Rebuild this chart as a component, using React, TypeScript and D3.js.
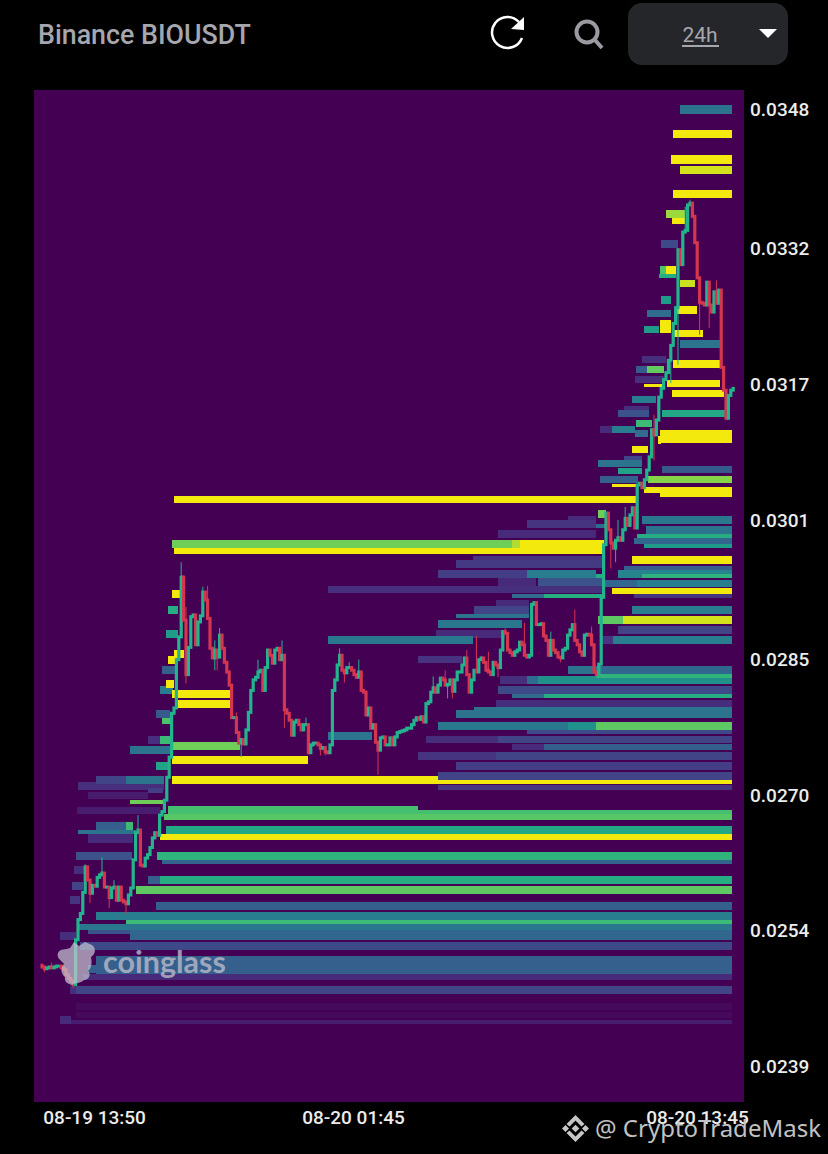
import { axisBottom, axisRight, interpolateViridis, scaleLinear, select } from 'd3';
import React, { useEffect, useRef } from 'react';

const WIDTH = 828;
const HEIGHT = 1154;

// all prices below are in units of 0.00001 USDT, candles are 5 minutes apart
const firstOpen = 2505;
const closes = [
  2503, 2501, 2502, 2503, 2502, 2503, 2504, 2504, 2502, 2500, 2494, 2490, 2487, 2483, 2534, 2557,
  2564, 2588, 2617, 2602, 2587, 2596, 2595, 2605, 2608, 2610, 2594, 2594, 2582, 2593, 2594, 2579,
  2594, 2579, 2577, 2575, 2585, 2593, 2625, 2656, 2659, 2619, 2618, 2627, 2631, 2639, 2650, 2656,
  2653, 2676, 2680, 2693, 2719, 2742, 2792, 2798, 2853, 2879, 2947, 2898, 2836, 2867, 2902, 2904,
  2870, 2896, 2903, 2930, 2921, 2900, 2866, 2855, 2864, 2856, 2881, 2866, 2850, 2839, 2824, 2787,
  2787, 2770, 2758, 2762, 2757, 2773, 2793, 2818, 2830, 2833, 2839, 2841, 2818, 2844, 2864, 2858,
  2849, 2864, 2866, 2853, 2858, 2796, 2792, 2784, 2767, 2782, 2784, 2779, 2773, 2779, 2779, 2747,
  2756, 2758, 2758, 2756, 2752, 2753, 2748, 2747, 2756, 2818, 2830, 2847, 2858, 2841, 2838, 2844,
  2844, 2841, 2836, 2833, 2839, 2818, 2816, 2790, 2798, 2775, 2779, 2759, 2750, 2764, 2765, 2756,
  2756, 2764, 2756, 2765, 2770, 2771, 2772, 2773, 2775, 2775, 2779, 2784, 2787, 2785, 2788, 2782,
  2803, 2805, 2816, 2821, 2816, 2824, 2832, 2830, 2824, 2825, 2830, 2817, 2830, 2839, 2839, 2847,
  2855, 2836, 2816, 2830, 2841, 2839, 2853, 2855, 2850, 2841, 2839, 2836, 2850, 2847, 2844, 2864,
  2885, 2883, 2864, 2861, 2858, 2862, 2864, 2873, 2870, 2858, 2856, 2858, 2916, 2918, 2893, 2893,
  2894, 2880, 2875, 2858, 2875, 2864, 2861, 2856, 2855, 2864, 2866, 2881, 2887, 2893, 2875, 2870,
  2862, 2858, 2881, 2882, 2881, 2870, 2839, 2836, 2848, 2924, 2984, 3020, 3001, 2986, 2980, 2989,
  2992, 2989, 3001, 3014, 3006, 3018, 3026, 3003, 3052, 3054, 3049, 3058, 3069, 3084, 3115, 3109,
  3126, 3152, 3162, 3172, 3180, 3194, 3211, 3236, 3254, 3320, 3303, 3340, 3342, 3371, 3373, 3358,
  3328, 3288, 3260, 3259, 3257, 3283, 3257, 3249, 3272, 3259, 3274, 3186, 3160, 3128, 3154, 3160,
  3162,
];
const wickCandles = [
  18, 20, 25, 28, 30, 35, 40, 58, 59, 60, 60, 67, 73, 74, 81, 83, 90, 100, 101, 110, 124, 132, 140,
  163, 168, 177, 181, 222, 237, 239, 240, 243, 255, 255, 262, 265, 268, 270, 274, 278, 281, 285,
  1, 4, 13, 69, 72, 72, 116, 118, 126, 128, 169, 171, 186, 190, 193, 201, 212, 216, 229,
];
const wickTips = [
  2620, 2576, 2628, 2570, 2602, 2564, 2676, 2964, 2949, 2913, 2826, 2936, 2841, 2889, 2793, 2742,
  2853, 2875, 2775, 2787, 2866, 2853, 2722, 2834, 2841, 2864, 2880, 2910, 2957, 2964, 3012, 3027,
  3132, 3080, 3168, 3189, 3369, 3377, 3223, 3231, 3285, 3126,
  2497, 2508, 2479, 2937, 2875, 2841, 2744, 2744, 2827, 2850, 2809, 2809, 2862, 2833, 2889, 2895, 2885, 2850, 2891,
];

const END = 287.5;
// liquidation levels: [first candle, last candle, high, low, heat 0..1]
const topLevels = [
  [266, END, 3485, 3475, 0.38], [263, END, 3456, 3447, 1], [262, END, 3428, 3418, 1],
  [266, END, 3415, 3406, 0.93], [263, END, 3388, 3379, 1], [260, 268, 3365, 3356, 0.85],
  [262.5, 268, 3356, 3349, 1], [258, 265, 3331, 3322, 0.22], [257.5, 260, 3301, 3292, 0.72],
  [260, 264, 3301, 3292, 1], [257, 264, 3292, 3288, 0.62], [266, 272, 3286, 3278, 0.92],
  [258, 262, 3267, 3258, 0.55], [264, 273, 3256, 3247, 1], [252, 262, 3251, 3243, 0.35],
  [257.5, 262, 3240, 3225, 1], [251, 257, 3233, 3225, 0.55], [263, 275.5, 3229, 3221, 1],
  [266, 282.5, 3217, 3208, 0.38], [250, 260, 3199, 3191, 0.14], [263, 282.5, 3194, 3185, 1],
  [247.5, 252, 3188, 3180, 0.28], [252, 259, 3188, 3180, 0.76], [247, 259, 3176, 3168, 0.13],
  [260.5, 282.5, 3172, 3164, 1], [251, 259, 3167, 3164, 1], [262.5, 284, 3160, 3152, 1],
  [246, 256, 3153, 3145, 0.42], [242.5, 253, 3142, 3134, 0.13], [240, 253, 3137, 3129, 0.25],
  [258.5, 285.5, 3137, 3129, 0.6], [247.5, 254, 3126, 3118, 0.68], [232.5, 237.5, 3119, 3111, 0.12],
  [237.5, 247, 3119, 3111, 0.42], [247, 252.5, 3115, 3107, 0.35], [257.5, END, 3115, 3100, 1],
  [256.5, 258, 3108, 3099, 1], [246, 252.5, 3096, 3089, 1], [258.5, END, 3074, 3066, 0.28],
  [242.5, 250, 3085, 3077, 0.2], [231.5, 250, 3081, 3073, 0.38], [240, 250, 3071, 3065, 0.58],
  [232.5, 248.5, 3062, 3054, 0.3], [252.5, END, 3062, 3054, 0.82], [237.5, 248, 3053, 3050, 1],
  [251, END, 3050, 3043, 1], [257.5, END, 3043, 3038, 1], [55, 248.5, 3040, 3032, 1],
];
const upperLevels = [
  [219, 231, 3017, 3012, 0.12], [202, 231, 3012, 3003, 0.15], [231.5, 235, 3024, 3014, 0.78],
  [231, 234.5, 3008, 3003, 0.35], [250, END, 3017, 3008, 0.4], [190, 231, 3001, 2992, 0.12],
  [251.5, END, 3005, 2996, 0.38], [248, END, 2996, 2992, 0.62], [246.5, END, 2992, 2985, 0.33],
  [251, END, 2985, 2980, 0.55], [54, 196, 2989, 2980, 0.78], [196, 199, 2989, 2980, 0.88],
  [199, 234, 2989, 2980, 1], [55, 234, 2980, 2973, 1], [179.5, 233.5, 2971, 2967, 0.15],
  [172.5, 233.5, 2967, 2957, 0.17], [246, END, 2971, 2962, 1], [242.5, END, 2960, 2955, 0.3],
  [240, END, 2955, 2951, 0.45], [250, END, 2951, 2946, 0.65], [240, 250, 2951, 2946, 0.45],
  [165, 202, 2955, 2946, 0.18], [202, 231, 2955, 2946, 0.42], [231, 234, 2951, 2946, 0.62],
  [190, 206, 2946, 2937, 0.12], [206.5, 233.5, 2946, 2937, 0.25], [119, 233.5, 2937, 2929, 0.14],
  [234.5, 248, 2944, 2936, 0.33], [248, END, 2944, 2936, 0.42], [237.5, END, 2935, 2928, 1],
  [246.5, END, 2928, 2923, 0.15], [196, 209, 2928, 2923, 0.35], [209, 234, 2928, 2923, 0.62],
  [189, 203, 2921, 2912, 0.12], [180, 203, 2914, 2905, 0.2], [172.5, 203, 2905, 2901, 0.38],
  [246, END, 2914, 2905, 0.42], [231.5, 242, 2903, 2894, 0.75], [242, END, 2903, 2894, 0.93],
  [165, 200, 2898, 2889, 0.4], [240, END, 2891, 2882, 0.2], [164, 193, 2887, 2878, 0.12],
  [119, 179.5, 2880, 2871, 0.4], [238, END, 2880, 2871, 0.42], [233.5, 238, 2880, 2871, 0.15],
  [156.5, 175, 2857, 2849, 0.15],
];
const middleLevels = [
  [219, 233.5, 2846, 2837, 0.38], [233.5, END, 2846, 2837, 0.33], [191, 202, 2834, 2825, 0.14],
  [202, 206.5, 2834, 2825, 0.35], [206.5, END, 2834, 2825, 0.5], [231, END, 2837, 2832, 0.65],
  [190, END, 2823, 2814, 0.22], [196, 209, 2814, 2809, 0.35], [209, END, 2814, 2809, 0.62],
  [189, END, 2807, 2799, 0.13], [180, END, 2799, 2796, 0.38], [172.5, END, 2796, 2787, 0.38],
  [165, 219, 2782, 2773, 0.4], [219, 231, 2782, 2773, 0.5], [231, END, 2782, 2773, 0.75],
  [202, END, 2773, 2768, 0.22], [160, 190, 2766, 2758, 0.13], [190, END, 2766, 2758, 0.2],
  [196, 209, 2757, 2750, 0.12], [209, END, 2757, 2750, 0.3], [119, 137.5, 2771, 2762, 0.38],
  [156.5, 189, 2748, 2739, 0.15], [189, END, 2748, 2739, 0.2], [172.5, END, 2737, 2727, 0.18],
  [165, END, 2725, 2716, 0.2], [54, 165, 2721, 2711, 1], [165, END, 2716, 2711, 1],
  [165, END, 2710, 2705, 0.15],
];
const stubLevels = [
  [54, 57.5, 2932, 2923, 1], [52.5, 56.5, 2914, 2905, 0.62], [51.5, 56.5, 2887, 2878, 0.55],
  [55, 59, 2864, 2855, 1], [52.5, 56, 2857, 2848, 1], [50, 55.5, 2846, 2837, 0.3],
  [51.5, 55, 2830, 2821, 1], [49, 54.5, 2823, 2814, 0.42], [54, 78.5, 2819, 2809, 1],
  [56, 78.5, 2807, 2798, 1], [47.5, 53.5, 2796, 2787, 0.28], [50, 53.5, 2787, 2780, 0.72],
  [44, 53.5, 2766, 2757, 0.14], [49, 54, 2766, 2757, 0.68], [54.5, 82.5, 2759, 2750, 0.78],
  [36.5, 53.5, 2755, 2746, 0.38], [54, 111, 2743, 2734, 1], [47.5, 53.5, 2737, 2727, 0.58],
];
const lowerLevels = [
  [35, 51, 2721, 2711, 0.38], [22.5, 35, 2721, 2711, 0.2], [15, 51, 2714, 2705, 0.14],
  [44, 50.5, 2707, 2701, 0.18], [19, 44, 2702, 2694, 0.08], [36.5, 50.5, 2693, 2689, 0.78],
  [14.5, 49, 2685, 2677, 0.08], [52.5, 156.5, 2686, 2682, 0.7], [52.5, END, 2682, 2677, 0.7],
  [51, END, 2677, 2670, 0.74], [51.5, END, 2664, 2655, 0.6], [49, END, 2655, 2648, 1],
  [22.5, 35, 2668, 2659, 0.3], [35, 38, 2668, 2659, 0.68], [15, 39, 2659, 2655, 0.38],
  [19, 38, 2655, 2644, 0.12], [14, 37.5, 2634, 2625, 0.25], [48, END, 2634, 2625, 0.65],
  [50, END, 2625, 2620, 0.32], [13.5, 18, 2618, 2609, 0.13], [12.5, 17, 2600, 2591, 0.2],
  [44, 49, 2607, 2598, 0.3], [49, END, 2607, 2598, 0.62], [39, END, 2595, 2586, 0.75],
  [11.5, 16, 2584, 2575, 0.15], [47.5, END, 2577, 2568, 0.3], [22.5, END, 2566, 2556, 0.42],
  [35, END, 2556, 2552, 0.68], [15, END, 2552, 2545, 0.4], [19, 44, 2545, 2541, 0.25],
  [36.5, END, 2545, 2534, 0.33], [7.5, 14, 2543, 2534, 0.13], [16, END, 2531, 2522, 0.22],
  [22.5, END, 2516, 2495, 0.3], [19, END, 2505, 2496, 0.3], [17, END, 2495, 2488, 0.12],
  [11.5, 14, 2481, 2472, 0.13], [14, END, 2481, 2472, 0.2], [14, END, 2462, 2454, 0.025],
  [14, END, 2452, 2445, 0.025], [7.5, 12, 2447, 2438, 0.12], [12, END, 2443, 2438, 0.08],
];

const priceTicks = [3480, 3321, 3166, 3012, 2853, 2698, 2545, 2390];
const priceLabels = ['0.0348', '0.0332', '0.0317', '0.0301', '0.0285', '0.0270', '0.0254', '0.0239'];
const timeTicks = [21.7, 129.6, 272.9];
const timeLabels = ['08-19 13:50', '08-20 01:45', '08-20 13:45'];

// the top of the colour scale reads a bit more lemon than plain viridis
const heatColour = (heat: number) => (heat >= 1 ? '#f3e90c' : interpolateViridis(heat));

const App: React.FC = () => {
  const svgRef = useRef<SVGSVGElement>(null);

  useEffect(() => {
    const svg = select(svgRef.current);
    svg.selectAll('*').remove();

    const xScale = scaleLinear().domain([0, 288]).range([42, 733.2]);
    const yScale = scaleLinear().domain([2349.2, 3501.9]).range([1102, 90]);

    svg.append('rect').attr('width', WIDTH).attr('height', HEIGHT).attr('fill', '#000');
    svg
      .append('rect')
      .attr('x', 34)
      .attr('y', 90)
      .attr('width', 710)
      .attr('height', 1012)
      .attr('fill', interpolateViridis(0));

    // Heat levels, hottest on top
    const levels = [...topLevels, ...upperLevels, ...middleLevels, ...stubLevels, ...lowerLevels].sort(
      (a, b) => a[4] - b[4],
    );
    svg
      .append('g')
      .attr('shape-rendering', 'crispEdges')
      .selectAll('rect')
      .data(levels)
      .join('rect')
      .attr('x', (d) => xScale(d[0]))
      .attr('width', (d) => xScale(d[1]) - xScale(d[0]))
      .attr('y', (d) => yScale(d[2]))
      .attr('height', (d) => yScale(d[3]) - yScale(d[2]))
      .attr('fill', (d) => heatColour(d[4]));

    // Candles
    const candles = closes.map((close, i) => ({
      i,
      close,
      open: i === 0 ? firstOpen : closes[i - 1],
    }));
    const colour = (d: { open: number; close: number }) => (d.close >= d.open ? '#22b58d' : '#d5364f');
    const candleGroup = svg.append('g');
    candleGroup
      .selectAll('.wick')
      .data(wickCandles)
      .join('line')
      .attr('class', 'wick')
      .attr('x1', (d) => xScale(d))
      .attr('x2', (d) => xScale(d))
      .attr('y1', (d) => yScale(candles[d].close))
      .attr('y2', (d, i) => yScale(wickTips[i]))
      .attr('stroke', (d) => colour(candles[d]))
      .attr('stroke-width', 1);
    candleGroup
      .selectAll('.body')
      .data(candles)
      .join('rect')
      .attr('class', 'body')
      .attr('x', (d) => xScale(d.i) - 1.6)
      .attr('width', 3.2)
      .attr('y', (d) => yScale(Math.max(d.open, d.close)) - 1.5)
      .attr('height', (d) => Math.abs(yScale(d.open) - yScale(d.close)) + 3)
      .attr('fill', colour);

    // Axes
    const yAxis = axisRight(yScale)
      .tickValues(priceTicks)
      .tickSize(0)
      .tickPadding(0)
      .tickFormat((_, i) => priceLabels[i]);
    const yAxisGroup = svg.append('g').attr('transform', 'translate(750,0)').call(yAxis as any);
    const xAxis = axisBottom(xScale)
      .tickValues(timeTicks)
      .tickSize(0)
      .tickPadding(0)
      .tickFormat((_, i) => timeLabels[i]);
    const xAxisGroup = svg.append('g').attr('transform', 'translate(0,1110)').call(xAxis as any);
    [yAxisGroup, xAxisGroup].forEach((g) => {
      g.select('.domain').remove();
      g.selectAll('text')
        .attr('fill', '#ececec')
        .style('font-family', 'Roboto')
        .style('font-weight', 500)
        .style('font-size', '19px');
    });

    // Watermark
    const logo = svg.append('g').attr('fill', '#c4c4d0').attr('opacity', 0.72);
    logo
      .append('path')
      .attr(
        'd',
        'M58 953 C60 948 66 950 70 948 L74 942 L79 946 L85 942 L92 945 C96 948 96 954 91 957 C92 962 92 968 88 971 C92 975 88 980 84 980 C80 984 76 982 72 985 C68 984 64 982 65 977 C61 974 60 968 64 964 C62 961 56 958 58 953 Z',
      );
    svg
      .append('text')
      .attr('x', 103)
      .attr('y', 973)
      .attr('fill', '#b9b9c9')
      .attr('opacity', 0.8)
      .style('font-family', 'Lato')
      .style('font-weight', 700)
      .style('font-size', '30.5px')
      .text('coinglass');

    const mark = svg.append('g').attr('fill', '#c6c6c6').attr('transform', 'translate(575.5,1128.5)');
    mark
      .selectAll('path')
      .data([
        'M0 -3.8 L3.8 0 L0 3.8 L-3.8 0 Z',
        'M-13.5 0 L-10 -3.5 L-6.5 0 L-10 3.5 Z',
        'M13.5 0 L10 -3.5 L6.5 0 L10 3.5 Z',
        'M0 -13.5 L9 -4.5 L6 -2 L0 -8 L-6 -2 L-9 -4.5 Z',
        'M0 13.5 L9 4.5 L6 2 L0 8 L-6 2 L-9 4.5 Z',
      ])
      .join('path')
      .attr('d', (d) => d);
    svg
      .append('text')
      .attr('x', 595)
      .attr('y', 1137)
      .attr('fill', '#c2c2c2')
      .style('font-family', 'Noto Sans')
      .style('font-size', '24px')
      .text('@ CryptoTradeMask');

    // Header
    svg
      .append('text')
      .attr('x', 38)
      .attr('y', 44)
      .attr('fill', '#a6a6ae')
      .style('font-family', 'Roboto')
      .style('font-weight', 500)
      .style('font-size', '26.8px')
      .text('Binance BIOUSDT');
    svg
      .append('path')
      .attr('d', 'M519 22 A15.5 15.5 0 1 0 522 38')
      .attr('fill', 'none')
      .attr('stroke', '#fff')
      .attr('stroke-width', 2.5);
    svg.append('path').attr('d', 'M511 29 L524 30 L524 17 Z').attr('fill', '#fff');
    svg
      .append('circle')
      .attr('cx', 587)
      .attr('cy', 32)
      .attr('r', 10.5)
      .attr('fill', 'none')
      .attr('stroke', '#9a9aa2')
      .attr('stroke-width', 4);
    svg
      .append('line')
      .attr('x1', 595)
      .attr('y1', 40)
      .attr('x2', 602)
      .attr('y2', 48)
      .attr('stroke', '#9a9aa2')
      .attr('stroke-width', 4);
    svg
      .append('rect')
      .attr('x', 628)
      .attr('y', 3)
      .attr('width', 160)
      .attr('height', 62)
      .attr('rx', 14)
      .attr('fill', '#25262a');
    svg
      .append('text')
      .attr('x', 700)
      .attr('y', 42)
      .attr('text-anchor', 'middle')
      .attr('fill', '#a6a6ae')
      .style('font-family', 'Roboto')
      .style('font-size', '21px')
      .text('24h');
    svg.append('rect').attr('x', 682).attr('y', 45).attr('width', 37).attr('height', 2).attr('fill', '#a6a6ae');
    svg.append('path').attr('d', 'M759 29 L777 29 L768 38 Z').attr('fill', '#fff');
  }, []);

  return (
    <svg
      ref={svgRef}
      width={WIDTH}
      height={HEIGHT}
      style={{ position: 'absolute', left: 0, top: 0, display: 'block' }}
    />
  );
};

export default App;
